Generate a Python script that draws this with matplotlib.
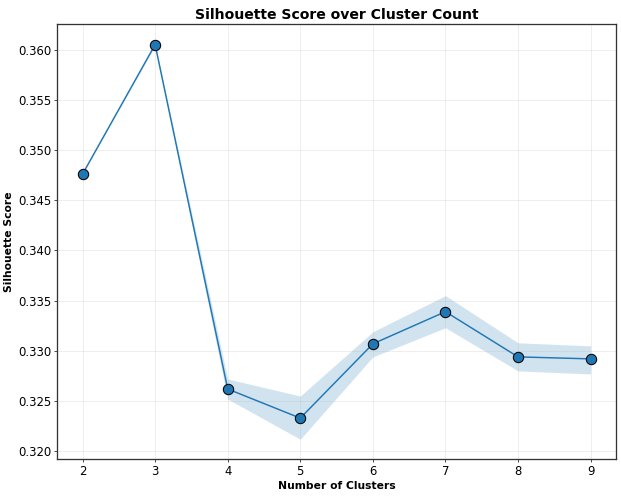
import matplotlib
matplotlib.use("Agg")
import matplotlib.pyplot as plt

# values
n_clusters = [2, 3, 4, 5, 6, 7, 8, 9]
silhouette_mean = [0.3476, 0.3605, 0.3262, 0.3233, 0.3307, 0.3339, 0.3294, 0.3292]
silhouette_low = [0.3476, 0.3604, 0.3252, 0.3212, 0.3294, 0.3323, 0.3280, 0.3277]
silhouette_high = [0.3476, 0.3606, 0.3272, 0.3255, 0.3319, 0.3355, 0.3308, 0.3305]

DPI = 62.1
fig, ax = plt.subplots(figsize=(621 / DPI, 497 / DPI), dpi=DPI)

ax.fill_between(n_clusters, silhouette_low, silhouette_high, color="tab:blue", alpha=0.2, linewidth=0)
ax.plot(n_clusters, silhouette_mean, color="tab:blue", linewidth=1.7, marker="o",
        markersize=12, markeredgecolor="black", markeredgewidth=1.2, markerfacecolor="tab:blue")

ax.set_title("Silhouette Score over Cluster Count", fontsize=16.3, fontweight="bold")
ax.set_xlabel("Number of Clusters", fontsize=12.5, fontweight="bold")
ax.set_ylabel("Silhouette Score", fontsize=12.5, fontweight="bold")
ax.set_xticks(n_clusters)
ax.tick_params(labelsize=13.5)
ax.grid(True, alpha=0.3)

for s in ax.spines.values():
    s.set_color("#333333")
    s.set_linewidth(1.5)

fig.subplots_adjust(left=0.092, right=0.992, top=0.952, bottom=0.0765)
fig.savefig("out.png", dpi=DPI)
